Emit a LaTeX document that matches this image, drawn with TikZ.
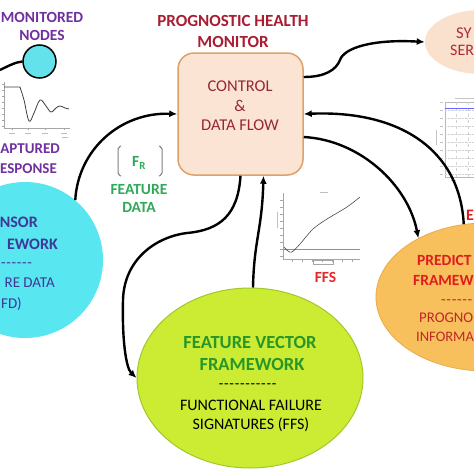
\documentclass[tikz,border=0pt]{standalone}
\usepackage{fontspec}
\setmainfont{Carlito}
\usetikzlibrary{arrows.meta,shapes.geometric}
\definecolor{ttlred}{RGB}{168,30,50}
\definecolor{boxtext}{RGB}{150,40,50}
\definecolor{boxfill}{RGB}{252,228,212}
\definecolor{boxedge}{RGB}{222,162,104}
\definecolor{monpurple}{RGB}{112,48,160}
\definecolor{sennavy}{RGB}{64,56,150}
\definecolor{cyanfill}{RGB}{88,230,240}
\definecolor{moncyan}{RGB}{100,226,236}
\definecolor{frgreen}{RGB}{50,168,90}
\definecolor{fvgreen}{RGB}{40,150,40}
\definecolor{limefill}{RGB}{204,236,52}
\definecolor{limeedge}{RGB}{160,200,40}
\definecolor{orngfill}{RGB}{248,192,92}
\definecolor{orngedge}{RGB}{232,172,72}
\definecolor{sysfill}{RGB}{250,225,206}
\definecolor{predred}{RGB}{222,30,30}
\definecolor{predtext}{RGB}{190,40,40}
\definecolor{ffsred}{RGB}{230,40,40}
\definecolor{sysred}{RGB}{180,40,50}
\newcommand\hy{-\kern0.7pt}
\begin{document}
\begin{tikzpicture}[x=1pt,y=-1pt,
  conn/.style={line width=2.4pt,-{Latex[length=8pt,width=7pt]}},
  plainconn/.style={line width=2.4pt},
  boldlbl/.style={inner sep=0pt,font=\fontsize{#1}{#1}\selectfont\bfseries},
  reglbl/.style={inner sep=0pt,font=\fontsize{#1}{#1}\selectfont},
  axis/.style={draw=gray!70,line width=0.5pt},
  tick/.style={draw=gray!70,line width=0.4pt}]
\useasboundingbox (0,0) rectangle (474,474);
\clip (0,0) rectangle (474,474);
\fill[white] (0,0) rectangle (474,474);

% ---------- shapes ----------
\node[circle,fill=cyanfill,minimum size=156pt,inner sep=0pt] (sensor) at (25,260) {};
\node[ellipse,fill=limefill,draw=limeedge,line width=1pt,minimum width=226pt,minimum height=180pt,inner sep=0pt] (feat) at (250,378) {};
\node[ellipse,fill=orngfill,draw=orngedge,line width=0.8pt,minimum width=220pt,minimum height=148pt,inner sep=0pt] (pred) at (486,297) {};
\node[ellipse,fill=sysfill,minimum width=112pt,minimum height=64pt,inner sep=0pt] (sys) at (481,42) {};
\node[draw=boxedge,fill=boxfill,line width=1.5pt,rounded corners=16pt,minimum width=125pt,minimum height=122pt,inner sep=0pt] (phm) at (240.5,114) {};
\node[circle,fill=moncyan,draw=black,line width=1.5pt,minimum size=33pt,inner sep=0pt] (mon) at (39.5,61.5) {};
\coordinate (monL) at (0,70);

% ---------- captured response chart ----------
\draw[axis] (4,82) -- (4,128) -- (70,128);
\foreach \yy in {84,90,...,126} \draw[tick] (2,\yy) -- (4,\yy);
\foreach \xx in {12,28,45,64} \draw[tick] (\xx,128) -- (\xx,130);
\foreach \xx in {12,28,45,64} \draw[gray!50,line width=0.8pt] (\xx-3,133) -- (\xx+3,133);
\draw[gray!50,line width=0.8pt] (62,137) -- (68,137);
\draw[black!75,line width=0.8pt] (4,87) -- (20,87)
  plot[smooth,tension=0.6] coordinates {(20,87) (24,100) (29,121) (34,113) (40,100) (46,106) (51,112) (56,108) (60,106) (65,108) (69,109)};

% ---------- FFS chart ----------
\draw[axis] (283,193) -- (283,259) -- (360,259);
\foreach \yy in {200,207,...,256} \draw[tick] (280,\yy) -- (283,\yy);
\foreach \xx in {292,302,...,352} \draw[tick] (\xx,259) -- (\xx,262);
\draw[tick] (313,260) rectangle (333,264);
\draw[gray!50,line width=0.8pt] (277,212) -- (277,228);
\draw[gray!50,line width=0.7pt] (320,192) -- (328,192);
\draw[green!65!black!70,line width=0.7pt] (283,249) -- (360,249);
\draw[black!70,line width=0.6pt] plot[smooth,tension=0.5] coordinates {(284,247) (288,251) (292,252) (300,244) (313,229) (327,219) (347,207) (360,197)};

% ---------- top-right chart ----------
\draw[draw=gray!55,line width=0.5pt] (445,102) rectangle (480,177);
\foreach \yy in {110,118,...,174} \draw[gray!35,densely dotted] (445,\yy) -- (474,\yy);
\foreach \yy in {102,110,...,174} \draw[gray!45,line width=0.6pt] (440,\yy) -- (443,\yy);
\draw[gray!35,dashed] (456,102) -- (456,177);
\draw[gray!35,dashed] (468,102) -- (468,177);
\draw[blue!60,line width=0.6pt] (445,108) -- (474,108);
\draw[gray!45,line width=0.8pt] (436,130) -- (436,145);
\draw[gray!45,line width=0.7pt] (455,98) -- (474,98);
\draw[gray!45,line width=0.7pt] (451,180) -- (456,180);

% ---------- F_R brackets ----------
\draw[gray,line width=1pt,rounded corners=2pt] (121,146) -- (118,147) -- (118,175) -- (121,176);
\draw[gray,line width=1pt,rounded corners=2pt] (159,146) -- (162,147) -- (162,175) -- (159,176);

% ---------- connectors ----------
\draw[plainconn] (monL) .. controls (8,66) and (16,62) .. (mon.west);
\draw[conn] (sensor.50) .. controls (78,150) and (120,112) .. (phm.west);
\draw[conn] (phm.south) .. controls (238,215) and (220,230) .. (187,233)
  .. controls (155,237) and (124,260) .. (123,300)
  .. controls (122,340) and (126,368) .. (feat.west);
\draw[conn] ([xshift=3pt]feat.north) .. controls (254,240) and (262,230) .. ([xshift=23pt]phm.south);
\draw[conn] ([yshift=37pt]phm.east) .. controls (325,77) and (336,70) .. (340,60)
  .. controls (344,48) and (372,39) .. (sys.west);
\draw[conn] (pred.107) .. controls (460,150) and (400,110) .. (phm.east);
\draw[conn] ([yshift=-23pt]phm.east) .. controls (360,140) and (408,185) .. (pred.139);

% ---------- texts ----------
\node[align=center,text=ttlred,font=\fontsize{17}{21}\selectfont\bfseries] (ttl) at (233,31.5) {PROGNOSTIC HEALTH\\MONITOR};
\node[align=center,text=boxtext,font=\fontsize{16.5}{19.5}\selectfont] (phmT) at (240,106) {CONTROL\\\&\\DATA FLOW};
\node[align=center,text=monpurple,font=\fontsize{15.5}{18}\selectfont\bfseries] (monT) at (42,26) {MONITORED\\NODES};
\node[boldlbl=15,text=monpurple,anchor=east] (capA) at (60,149) {APTURED};
\node[boldlbl=15,text=monpurple,anchor=east] (capB) at (57,169) {ESPONSE};

\node[boldlbl=16,text=sennavy,anchor=east] (sen1) at (38,222) {NSOR};
\node[boldlbl=16,text=sennavy,anchor=east] (sen2) at (58,244) {EWORK};
\node[reglbl=15,text=sennavy,anchor=east] (sen3) at (33,265) {\hy\hy\hy\hy\hy\hy};
\node[reglbl=15,text=sennavy,anchor=east] (sen4) at (55,283) {RE DATA};
\node[reglbl=15,text=sennavy,anchor=east] (sen5) at (22,304) {FD)};

\node[boldlbl=15.5,text=frgreen] (fr) at (139,163) {F\textsubscript{R}};
\node[align=center,text=frgreen,font=\fontsize{15.5}{18}\selectfont\bfseries] (fdat) at (139,198) {FEATURE\\DATA};

\node[boldlbl=15.5,text=ffsred] (ffs) at (325.5,277) {FFS};

\node[boldlbl=18.5,text=fvgreen] (fv1) at (250,342) {FEATURE VECTOR};
\node[boldlbl=18.5,text=fvgreen] (fv2) at (252,364) {FRAMEWORK};
\node[reglbl=15,text=black] (fv3) at (248,386) {\hy\hy\hy\hy\hy\hy\hy\hy\hy\hy\hy};
\node[reglbl=16,text=black] (fv4) at (251,405) {FUNCTIONAL FAILURE};
\node[reglbl=16,text=black] (fv5) at (251,425) {SIGNATURES (FFS)};

\node[boldlbl=15.5,text=predred,anchor=west] (pr1) at (417,260) {PREDICT};
\node[boldlbl=15.5,text=predred,anchor=west] (pr2) at (413,280) {FRAMEW};
\node[reglbl=15,text=predtext,anchor=west] (pr3) at (441,302) {\hy\hy\hy\hy\hy\hy};
\node[reglbl=14.8,text=predtext,anchor=west] (pr4) at (419,318) {PROGNO};
\node[reglbl=14.5,text=predtext,anchor=west] (pr5) at (416,337) {INFORMA};

\node[reglbl=16.5,text=sysred,anchor=west] (sy1) at (456,33) {SY};
\node[reglbl=16,text=sysred,anchor=west] (sy2) at (450,50) {SER};
\node[boldlbl=16,text=predred,anchor=west] (est) at (466,215) {E};
\end{tikzpicture}
\end{document}
